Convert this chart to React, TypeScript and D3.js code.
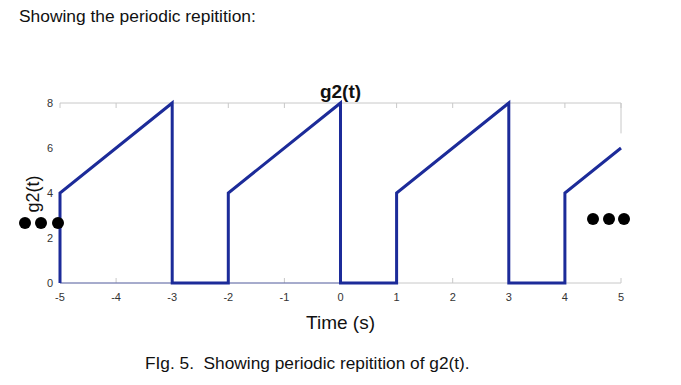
import React from 'react';
import * as d3 from 'd3';

// signal breakpoints of g2(t)
const times = [-5, -5, -3, -3, -2, -2, 0, 0, 1, 1, 3, 3, 4, 4, 5];
const values = [0, 4, 8, 0, 0, 4, 8, 0, 0, 4, 8, 0, 0, 4, 6];
const xTicks = [-5, -4, -3, -2, -1, 0, 1, 2, 3, 4, 5];
const yTicks = [0, 2, 4, 6, 8];

const W = 681;
const H = 385;
const FONT = 'Liberation Sans, Arial, sans-serif';

export default function App() {
	const x = d3.scaleLinear().domain([-5, 5]).range([60, 621]);
	const y = d3.scaleLinear().domain([0, 8]).range([283, 103]);

	const pts: [number, number][] = times.map((t, i) => [t, values[i]]);
	const line = d3
		.line<[number, number]>()
		.x((d) => x(d[0]))
		.y((d) => y(d[1]));

	const grey = '#c8c8c8';
	const blue = '#1c2b99';

	return (
		<div style={{ position: 'absolute', left: 0, top: 0 }}>
			<svg width={W} height={H} style={{ display: 'block', background: '#fff' }}>
				<text x={19} y={22} fontFamily={FONT} fontSize={17.4} fill="#111">
					Showing the periodic repitition:
				</text>

				{/* frame */}
				<line x1={x(-5)} x2={x(5)} y1={y(8)} y2={y(8)} stroke={grey} />
				<line x1={x(-5)} x2={x(5)} y1={y(0)} y2={y(0)} stroke={grey} />
				<line x1={x(5)} x2={x(5)} y1={y(8)} y2={y(6.65)} stroke={grey} />
				{xTicks.map((t) => (
					<g key={'xt' + t}>
						<line x1={x(t)} x2={x(t)} y1={y(0)} y2={y(0) - 5} stroke={grey} />
						<line x1={x(t)} x2={x(t)} y1={y(8)} y2={y(8) + 5} stroke={grey} />
						<text
							x={x(t)}
							y={y(0) + 18}
							textAnchor="middle"
							fontFamily={FONT}
							fontSize={11}
							fill="#333"
						>
							{t}
						</text>
					</g>
				))}
				{yTicks.map((v) => (
					<text
						key={'yt' + v}
						x={53}
						y={y(v) + 4}
						textAnchor="end"
						fontFamily={FONT}
						fontSize={11}
						fill="#333"
					>
						{v}
					</text>
				))}

				{/* thin baseline */}
				<line x1={x(-5)} x2={x(1)} y1={y(0)} y2={y(0)} stroke={blue} strokeWidth={1} opacity={0.6} />

				{/* signal */}
				<path d={line(pts) || ''} fill="none" stroke={blue} strokeWidth={3} />

				<text
					x={x(0)}
					y={98}
					textAnchor="middle"
					fontFamily={FONT}
					fontSize={19}
					fontWeight="bold"
					fill="#111"
				>
					g2(t)
				</text>
				<text
					x={x(0)}
					y={329}
					textAnchor="middle"
					fontFamily={FONT}
					fontSize={19}
					fill="#111"
				>
					Time (s)
				</text>
				<text
					transform={`translate(39, 194) rotate(-90)`}
					textAnchor="middle"
					fontFamily={FONT}
					fontSize={18}
					fill="#111"
				>
					g2(t)
				</text>

				{/* continuation dots */}
				{[25, 41, 58].map((cx) => (
					<circle key={'l' + cx} cx={cx} cy={223} r={6} fill="#000" />
				))}
				{[593, 609, 624].map((cx) => (
					<circle key={'r' + cx} cx={cx} cy={219} r={6} fill="#000" />
				))}

				<text
					x={145}
					y={369}
					fontFamily={FONT}
					fontSize={17.3}
					fill="#111"
					style={{ whiteSpace: 'pre' }}
				>
					{'FIg. 5.  Showing periodic repitition of g2(t).'}
				</text>
			</svg>
		</div>
	);
}
